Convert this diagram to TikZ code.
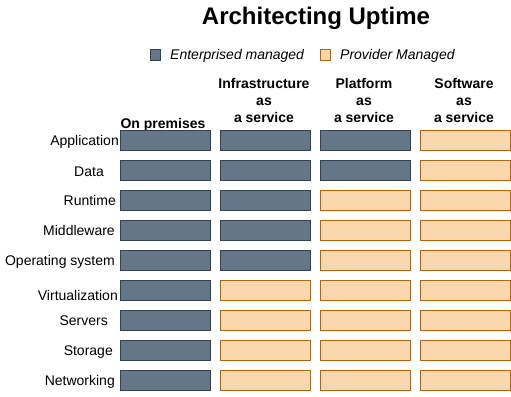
\documentclass[tikz,border=0pt]{standalone}
\usepackage{fontspec}
\setmainfont{Liberation Sans}
\usetikzlibrary{positioning}
\definecolor{ent}{HTML}{647687}
\definecolor{entd}{HTML}{314354}
\definecolor{prov}{HTML}{FAD7AC}
\definecolor{provd}{HTML}{B46504}
\tikzset{
  % Filled cell with a darker stroke of the same hue.
  cell/.style    = {rectangle, draw=#1d, fill=#1, line width=1pt, inner sep=0pt,
                    minimum width=90pt, minimum height=20pt},
  cell/.default  = ent,
  swatch/.style  = {rectangle, draw=#1d, fill=#1, line width=1pt, inner sep=0pt,
                    minimum width=10pt, minimum height=11pt},
  title/.style   = {font=\fontsize{24}{28}\selectfont\bfseries, inner sep=0pt},
  legend/.style  = {font=\fontsize{14}{17}\selectfont\itshape, inner sep=0pt},
  colhead/.style = {font=\fontsize{14}{17}\selectfont\bfseries, align=center, inner sep=0pt},
  rowlbl/.style  = {font=\fontsize{14}{17}\selectfont, inner sep=0pt},
}

\begin{document}
\begin{tikzpicture}[x=1pt,y=-1pt]
\useasboundingbox (0,0) rectangle (511,396);
% title
\node[title, anchor=base] (ttl) at (316,25) {Architecting Uptime};
% legend
\node[swatch=ent] (sqE) at (155.5,55.5) {};
\node[legend, right=9pt of sqE] (legE) {Enterprised managed};
\node[swatch=prov] (sqP) at (325.5,55.5) {};
\node[legend, right=9pt of sqP] (legP) {Provider Managed};
% column heads
\node[colhead, anchor=base] (hOn) at (163,128) {On premises};
\node[colhead, anchor=north] (hIaas) at (264,78) {Infrastructure\\as\\a service};
\node[colhead, anchor=north] (hPaas) at (364,78) {Platform\\as\\a service};
\node[colhead, anchor=north] (hSaas) at (464,78) {Software\\as\\a service};
% rows: label / right end of label / enterprise-managed columns / label shift
\foreach \lbl/\xe/\n/\dy [count=\r] in {Application/119/3/0, Data/104/3/1,
    Runtime/116/2/0, Middleware/115/2/0, Operating system/115/2/0,
    Virtualization/118/1/5, Servers/108/1/0, Storage/113/1/0, Networking/115/1/0} {
  \node[rowlbl, anchor=base east] (lbl\r) at (\xe,{115+30*\r+\dy}) {\lbl};
  \foreach \c in {1,...,4} {
    \ifnum\c>\n \def\kind{prov}\else\def\kind{ent}\fi
    \node[cell=\kind] (c\r-\c) at ({65+100*\c},{110+30*\r}) {};
  }
}
\end{tikzpicture}
\end{document}
